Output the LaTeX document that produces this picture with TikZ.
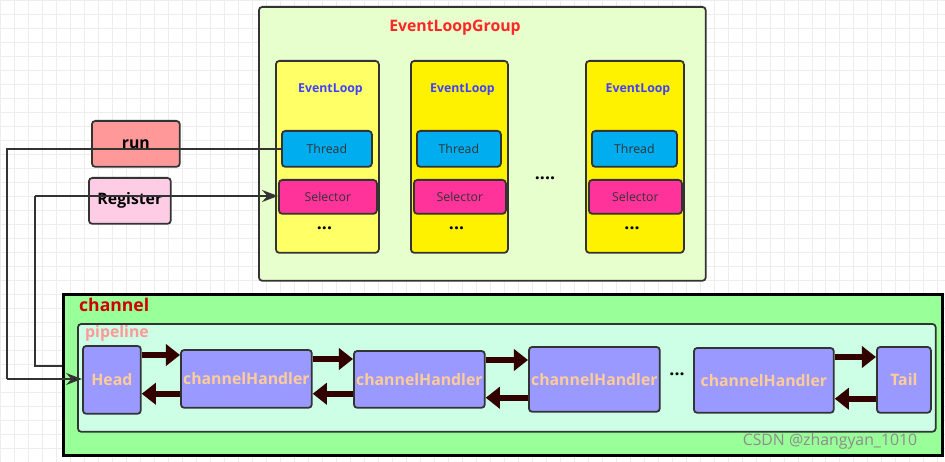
\documentclass[tikz,border=0pt]{standalone}
\usepackage{fontspec}
\setmainfont{Open Sans}
\usetikzlibrary{arrows.meta}
\definecolor{grpfill}{HTML}{E6FFCC}
\definecolor{loopa}{HTML}{FFFF66}
\definecolor{selfill}{HTML}{FF3399}
\definecolor{runfill}{HTML}{FF9999}
\definecolor{regfill}{HTML}{FFCCE6}
\definecolor{chfill}{HTML}{99FF99}
\definecolor{pipefill}{HTML}{CCFFE6}
\definecolor{hdfill}{HTML}{9999FF}
\definecolor{hdtext}{HTML}{FFCC99}
\definecolor{darr}{HTML}{330000}
\definecolor{edge}{HTML}{333333}

\tikzset{
    box/.style={draw=edge,line width=1pt,rounded corners=2pt,inner sep=0pt,anchor=north west},
    hnd/.style={box,fill=hdfill,text=hdtext,font=\bfseries\small},
    wire/.style={draw=edge,line width=1.2pt},
    fat/.style={draw=darr,line width=3.5pt,-{Triangle[length=8pt,width=12pt]}},
}

\begin{document}
\begin{tikzpicture}[x=0.02cm,y=-0.02cm]
        \useasboundingbox (0,0) rectangle (945,462);
        \fill[white] (0,0) rectangle (945,462);
        \draw[black!7,step=0.28cm] (0,0) grid (945,462);

        % event loop group
        \node[box,fill=grpfill,minimum width=8.94cm,minimum height=5.48cm] (grp) at (258,6) {};
        \node[text=red!85,font=\bfseries\small] (grplbl) at (455,28) {EventLoopGroup};

        \foreach \n/\x/\w/\c in {1/275/103/loopa, 2/410/97/yellow, 3/585/98/yellow}{
            \node[box,fill=\c,minimum width=\w*0.02cm,minimum height=3.84cm] (loop\n) at (\x,60) {};
            \node[text=blue!75,font=\bfseries\scriptsize] (loop\n lbl) at (\x+\w/2+4,90) {EventLoop};
            \node[box,fill=cyan,text=edge,font=\scriptsize,minimum width=\w*0.02cm-0.26cm,minimum height=0.72cm]
                (thr\n) at (\x+6,130) {Thread};
            \node[box,fill=selfill,text=edge,font=\scriptsize,minimum width=\w*0.02cm-0.1cm,minimum height=0.68cm]
                (sel\n) at (\x+3,179) {Selector};
            \node[font=\bfseries] (dots\n) at (\x+\w/2-2,228) {...};
        }
        \node[font=\bfseries] (gdots) at (545,178) {....};

        % run / register
        \node[box,fill=runfill,font=\bfseries\small,minimum width=1.76cm,minimum height=0.92cm] (run) at (91,120) {run};
        \node[box,fill=regfill,font=\bfseries\small,minimum width=1.64cm,minimum height=0.92cm] (reg) at (88,177) {Register};

        % channel
        \node[box,draw=black,line width=1.6pt,rounded corners=0pt,fill=chfill,minimum width=17.58cm,minimum height=3.22cm] (ch) at (62,293) {};
        \node[text=red!80!black,font=\bfseries,anchor=west] (chlbl) at (73,305) {channel};
        \node[box,fill=pipefill,minimum width=17.16cm,minimum height=2.16cm] (pipe) at (77,323) {};
        \node[text=runfill,font=\bfseries\small,anchor=west] (pipelbl) at (79,333) {pipeline};

        \node[hnd,minimum width=1.16cm,minimum height=1.36cm] (head) at (82,345) {Head};
        \node[hnd,minimum width=2.62cm,minimum height=1.16cm] (h1) at (180,349) {channelHandler};
        \node[hnd,minimum width=2.62cm,minimum height=1.14cm] (h2) at (353,350) {channelHandler};
        \node[hnd,minimum width=2.62cm,minimum height=1.3cm] (h3) at (528,346) {channelHandler};
        \node[hnd,minimum width=2.8cm,minimum height=1.3cm] (h4) at (693,347) {channelHandler};
        \node[hnd,minimum width=1.08cm,minimum height=1.32cm] (tail) at (876,346) {Tail};
        \node[font=\bfseries] (hdots) at (677,374) {...};

        \foreach \a/\b in {head/h1, h1/h2, h2/h3, h4/tail}{
            \path[fat] ([yshift=-0.2cm]\a.north east) -- ([yshift=-0.2cm]\a.north east -| \b.west);
            \path[fat] ([yshift=0.3cm]\b.south west) -- ([yshift=0.3cm]\b.south west -| \a.east);
        }

        % wires
        \coordinate (runc) at (7,149);
        \coordinate (regc) at (35,196);
        \draw[wire] (thr1.west |- 0,149) -- (runc) -- (7,379) edge[-{Stealth[length=9pt]}] (head.west |- 0,379);
        \draw[wire,-{Stealth[length=9pt]}] (regc) -- (sel1.west |- 0,196);
        \draw[wire] (regc) -- (35,366) -- (ch.west |- 0,366);

        \node[text=black!45,font=\small] (wm) at (830,441) {CSDN @zhangyan\_1010};
\end{tikzpicture}
\end{document}
